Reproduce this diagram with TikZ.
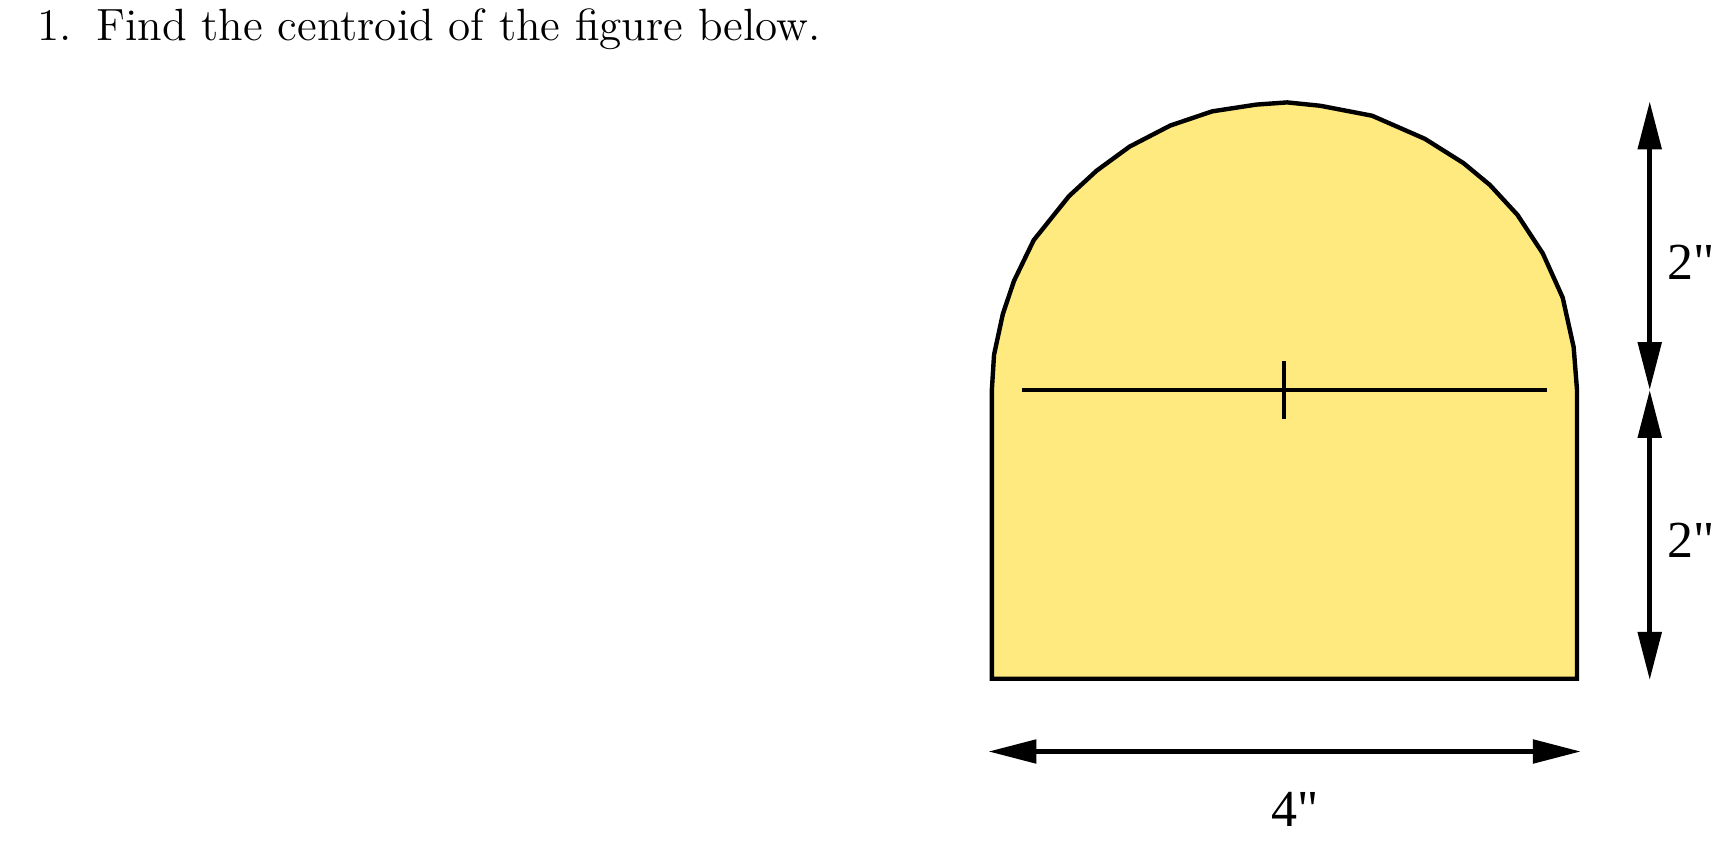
\documentclass[tikz,border=0pt]{standalone}
\usepackage{fontspec}
\newfontfamily\dimfont[Ligatures=TeXOff]{Liberation Serif}
\usetikzlibrary{arrows.meta}
\definecolor{shapefill}{RGB}{255,234,128}
\tikzset{
  outline/.style={draw=black,line width=1.1pt,fill=shapefill,line join=miter},
  centline/.style={draw=black,line width=1.1pt},
  dimline/.style={draw=black,line width=1.2pt,{Triangle[length=12pt,width=5.8pt]}-{Triangle[length=12pt,width=5.8pt]}},
  dimlabel/.style={font=\dimfont\fontsize{13}{15.6}\selectfont,inner sep=0pt}
}
\begin{document}
\begin{tikzpicture}[x=1.286cm,y=1.286cm]
        \useasboundingbox (-6.78,-1.183) rectangle (5.032,4.64);
        \node[anchor=base west,inner sep=0pt,font=\fontsize{11.3}{13.6}\selectfont] (title) at (-6.53,4.362) {1.\hspace{0.55em}Find the centroid of the figure below.};
        % rectangle with the half disc on top
        \draw[outline] (0,0) -- (4,0) -- (4,1.974) -- (3.977,2.267) -- (3.902,2.606) -- (3.766,2.908)
            -- (3.593,3.171) -- (3.405,3.375) -- (3.224,3.525) -- (2.960,3.691) -- (2.599,3.849)
            -- (2.245,3.917) -- (2.019,3.940) -- (1.808,3.925) -- (1.507,3.879) -- (1.220,3.782)
            -- (0.942,3.638) -- (0.716,3.473) -- (0.527,3.299) -- (0.286,2.998) -- (0.151,2.719)
            -- (0.075,2.493) -- (0.015,2.215) -- (0,1.974) -- cycle;
        % centre line and tick
        \coordinate (cenleft) at (0.203,1.974);
        \coordinate (cenright) at (3.797,1.974);
        \coordinate (centop) at (1.996,2.170);
        \coordinate (cenbot) at (1.996,1.778);
        \draw[centline] (cenleft) -- (cenright);
        \draw[centline] (centop) -- (cenbot);
        % dimensions
        \coordinate (htop) at (4.497,3.947);
        \coordinate (hmid) at (4.497,1.974);
        \coordinate (hbot) at (4.497,-0.008);
        \coordinate (wleft) at (-0.023,-0.497);
        \coordinate (wright) at (4.026,-0.497);
        \draw[dimline] (htop) -- (hmid);
        \draw[dimline] (hmid) -- (hbot);
        \draw[dimline] (wleft) -- (wright);
        \node[dimlabel,anchor=west] (hupper) at (4.615,2.85) {2"};
        \node[dimlabel,anchor=west] (hlower) at (4.615,0.949) {2"};
        \node[dimlabel] (wlabel) at (2.07,-0.896) {4"};
     \end{tikzpicture}
\end{document}
